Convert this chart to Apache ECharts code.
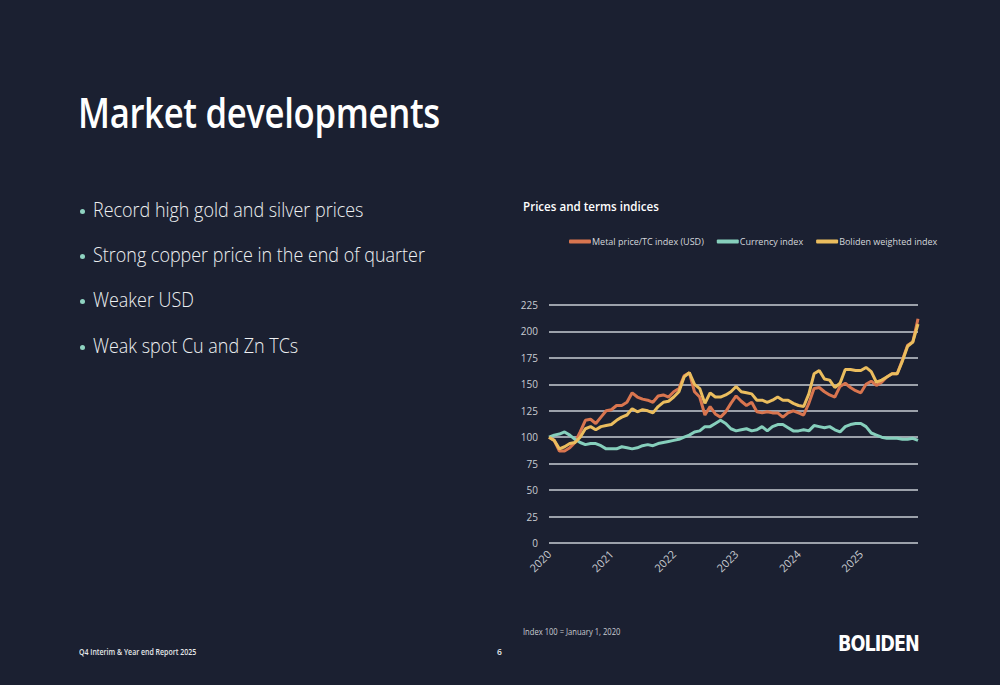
<!DOCTYPE html>
<html>
<head>
<meta charset="utf-8">
<script src="https://cdn.jsdelivr.net/npm/echarts@6/dist/echarts.min.js"></script>
<style>
	html, body { margin: 0; padding: 0; }
	body { width: 1000px; height: 685px; background: #1b2031; position: relative; overflow: hidden; font-family: 'Open Sans', sans-serif; }
	.abs { position: absolute; white-space: nowrap; transform-origin: left center; }
	#title { left: 78px; top: 84px; font-size: 41px; font-weight: 600; color: #ffffff; letter-spacing: -0.4px; transform: scaleX(0.847); }
	.bullet { left: 93px; font-size: 19.5px; font-weight: 300; color: #eef0f2; transform: scaleX(0.92); }
	.dot { position: absolute; left: 80px; width: 5px; height: 5px; border-radius: 50%; background: #8fd3c1; }
	#note { left: 523px; top: 625px; font-size: 9.5px; color: #c9ccd2; transform: scaleX(0.8); }
	#footer { left: 79px; top: 646px; font-size: 8.5px; font-weight: 600; color: #e6e8ea; transform: scaleX(0.82); }
	#page { left: 497px; top: 646px; font-size: 8.5px; font-weight: 600; color: #e6e8ea; }
	#logo { left: 838px; top: 632px; font-family: 'DejaVu Sans Condensed', 'DejaVu Sans', sans-serif; font-size: 21px; font-weight: bold; color: #ffffff; letter-spacing: -1px; transform: scaleX(0.93); }
	#chart { position: absolute; left: 0; top: 0; width: 1000px; height: 685px; }
</style>
</head>
<body>
<div id="chart"></div>
<div class="abs" id="title">Market developments</div>
<div class="dot" style="top: 209px;"></div>
<div class="abs bullet" style="top: 196px;">Record high gold and silver prices</div>
<div class="dot" style="top: 254px;"></div>
<div class="abs bullet" style="top: 241px;">Strong copper price in the end of quarter</div>
<div class="dot" style="top: 299px;"></div>
<div class="abs bullet" style="top: 286px;">Weaker USD</div>
<div class="dot" style="top: 345px;"></div>
<div class="abs bullet" style="top: 332px;">Weak spot Cu and Zn TCs</div>
<div class="abs" id="note">Index 100 = January 1, 2020</div>
<div class="abs" id="footer">Q4 Interim &amp; Year end Report 2025</div>
<div class="abs" id="page">6</div>
<div class="abs" id="logo">BOLIDEN</div>
<script>
// monthly index values, Jan 2020 .. Dec 2025
const years = ['2020', '2021', '2022', '2023', '2024', '2025'];
const yTicks = [0, 25, 50, 75, 100, 125, 150, 175, 200, 225];

const metalPrice = [
	100, 97, 87, 87, 90, 95, 105, 116, 117, 113, 119, 125,
	126, 130, 130, 133, 142, 138, 136, 135, 133, 139, 140, 138,
	143, 146, 158, 161, 143, 138, 121, 129, 122, 119, 124, 132,
	139, 134, 130, 133, 124, 123, 124, 123, 123, 119, 123, 125,
	123, 121, 132, 146, 147, 143, 140, 138, 148, 151, 147, 144,
	142, 150, 153, 149, 152, 157, 160, 160, 173, 187, 190, 212
];
const currency = [
	100, 102, 103, 105, 102, 98, 95, 93, 94, 94, 92, 89,
	89, 89, 91, 90, 89, 90, 92, 93, 92, 94, 95, 96,
	97, 98, 100, 102, 105, 106, 110, 110, 113, 116, 113, 108,
	106, 107, 108, 106, 107, 110, 106, 110, 112, 112, 109, 106,
	106, 107, 106, 111, 110, 109, 110, 107, 105, 110, 112, 113,
	113, 110, 104, 102, 100, 99, 99, 99, 98, 98, 99, 97
];
const boliden = [
	100, 97, 89, 91, 94, 95, 100, 108, 110, 107, 110, 111,
	112, 116, 119, 121, 127, 124, 126, 125, 123, 129, 133, 134,
	138, 143, 157, 161, 150, 146, 132, 142, 138, 138, 140, 143,
	148, 143, 142, 141, 135, 135, 133, 135, 138, 135, 135, 132,
	130, 129, 141, 160, 163, 155, 154, 147, 151, 164, 164, 163,
	163, 166, 162, 152, 154, 157, 160, 160, 172, 186, 190, 207
];

const months = [];
years.forEach(y => {
	for (let m = 1; m <= 12; m++) {
		months.push(y + '-' + (m < 10 ? '0' + m : m));
	}
});

const chart = echarts.init(document.getElementById('chart'), null, { renderer: 'svg' });
const lineSeries = {
	type: 'line',
	showSymbol: false,
	symbol: 'none',
	smooth: false,
	animation: false
};
chart.setOption({
	backgroundColor: 'transparent',
	textStyle: { fontFamily: 'Open Sans' },
	title: {
		text: 'Prices and terms indices',
		left: 518,
		top: 195,
		textStyle: { color: '#ffffff', fontSize: 11.6, fontWeight: 600, fontFamily: 'Open Sans' }
	},
	legend: {
		left: 564,
		top: 232,
		width: 420,
		itemWidth: 22,
		itemHeight: 4,
		itemGap: 13,
		icon: 'roundRect',
		textStyle: { color: '#d4d7dc', fontSize: 9, fontFamily: 'Open Sans', padding: [0, 0, 0, -4] },
		data: ['Metal price/TC index (USD)', 'Currency index', 'Boliden weighted index']
	},
	grid: {
		left: 549,
		right: 82,
		top: 305,
		bottom: 142,
		containLabel: false
	},
	xAxis: {
		type: 'category',
		data: months,
		boundaryGap: false,
		axisLine: { show: false },
		axisTick: { show: false },
		axisLabel: {
			color: '#c9ccd2',
			fontSize: 11,
			rotate: 45,
			margin: 9,
			interval: (i) => i % 12 === 0,
			formatter: (v) => v.slice(0, 4)
		},
		splitLine: { show: false }
	},
	yAxis: {
		type: 'value',
		min: yTicks[0],
		max: yTicks[yTicks.length - 1],
		interval: 25,
		axisLine: { show: false },
		axisTick: { show: false },
		axisLabel: { color: '#c9ccd2', fontSize: 10, margin: 11 },
		splitLine: { lineStyle: { color: '#c9cdd3', width: 1.6 } }
	},
	series: [
		{
			...lineSeries,
			name: 'Metal price/TC index (USD)',
			data: metalPrice,
			color: '#d9754f',
			lineStyle: { color: '#d9754f', width: 3 }
		},
		{
			...lineSeries,
			name: 'Currency index',
			data: currency,
			color: '#86cfbc',
			lineStyle: { color: '#86cfbc', width: 3 }
		},
		{
			...lineSeries,
			name: 'Boliden weighted index',
			data: boliden,
			color: '#ebbd5e',
			lineStyle: { color: '#ebbd5e', width: 3 }
		}
	]
});
</script>
</body>
</html>
